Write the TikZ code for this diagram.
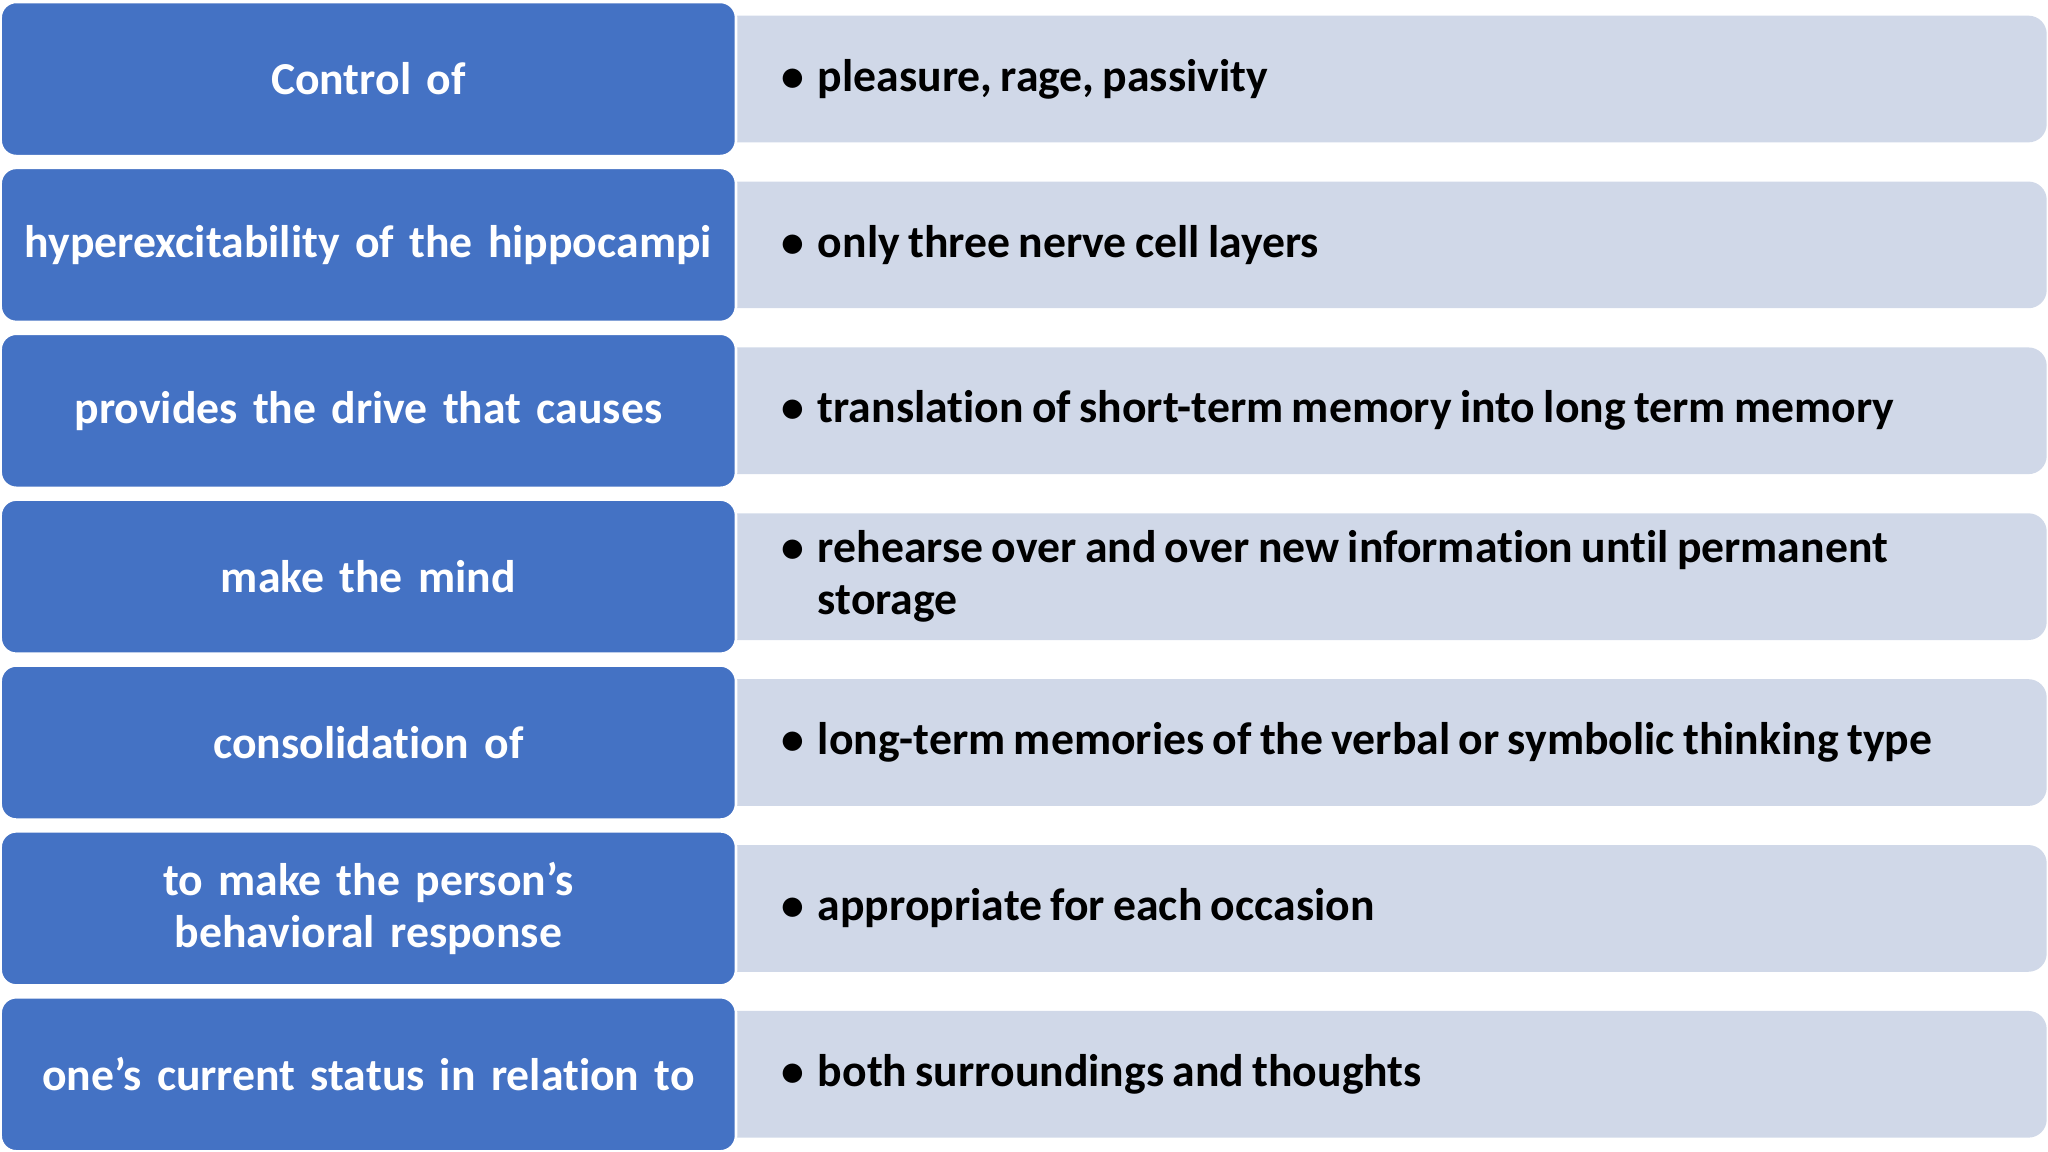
\documentclass[tikz,border=0pt]{standalone}
\usepackage{fontspec}
\setmainfont[Ligatures=NoCommon,WordSpace={0.8,0.5,0.3}]{Carlito}
\definecolor{bluebox}{HTML}{4472C4}
\definecolor{lightbox}{HTML}{D0D8E8}
\begin{document}
\begin{tikzpicture}[x=1pt,y=-1pt,
  leftbox/.style={fill=bluebox,draw=white,line width=2pt,rounded corners=12pt,minimum width=563pt,minimum height=118pt,text width=550pt,align=center,text=white,font=\fontsize{35}{40}\selectfont\bfseries,inner sep=0pt},
  rightbox/.style={fill=lightbox,draw=none,inner sep=0pt,align=left,font=\fontsize{35}{40}\selectfont\bfseries,text=black}]
\useasboundingbox (0,0) rectangle (1568,882);
\foreach \i/\l/\r in {0/Control of/pleasure{,} rage{,} passivity,
  1/hyperexcitability of the hippocampi/only three nerve cell layers,
  2/provides the drive that causes/translation of short-term memory into long term memory,
  3/make the mind/rehearse over and over new information until permanent storage,
  4/consolidation of/long-term memories of the verbal or symbolic thinking type,
  5/to make the person’s behavioral response/appropriate for each occasion,
  6/one’s current status in relation to/both surroundings and thoughts}{
  \pgfmathsetmacro{\yc}{60.5+127*\i}
  \fill[lightbox,rounded corners=14pt] (540,\yc-48.5) rectangle (1567,\yc+48.5);
  \node[leftbox] (L\i) at (282,\yc) {\l};
  \node[rightbox,anchor=west] (R\i) at (598,\yc) {\makebox[28pt][l]{•}\parbox[t]{900pt}{\raggedright\r}};
}
\end{tikzpicture}
\end{document}
